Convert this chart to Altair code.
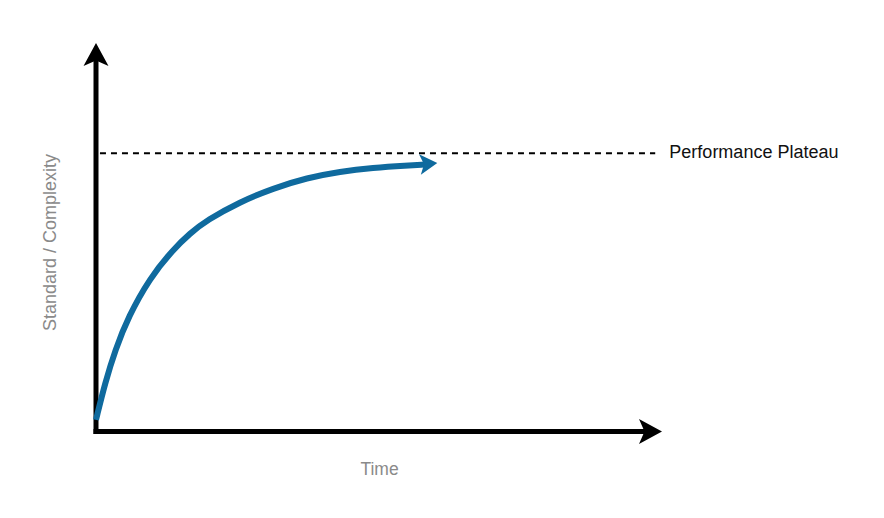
import altair as alt
import pandas as pd

# Learning curve (Time vs Standard / Complexity), in chart units 0-100
curve_x = [0.0, 1.6, 3.4, 5.7, 9.5, 13.6, 16.6, 19.6, 25.4, 31.3, 37.3, 43.1, 48.9, 55.0, 58.0]
curve_y = [3.0, 12.5, 21.0, 29.5, 39.5, 46.8, 51.0, 54.4, 59.1, 62.6, 65.3, 66.9, 67.9, 68.5, 68.7]
curve_tip_x = [60.3]
curve_tip_y = [69.1]

plateau_level = [71.6]
plateau_start = [0.7]
plateau_end = [98.8]
plateau_label = ["Performance Plateau"]
label_x = [101.3]

axis_end_x = [97.0]      # x-axis shaft end
axis_end_y = [95.6]      # y-axis shaft end
axis_tip_x = [100.0]
axis_tip_y = [100.0]

x_title = "Time"
y_title = "Standard / Complexity"

FONT = "Liberation Sans"
BLUE = "#0f6a9e"
ARROW_AXIS = "M0,0 L-1.84,-1 L-1.4,0 L-1.84,1 Z"
ARROW_CURVE = "M0,0 L-1.7,-1 L-1.3,0 L-1.7,1 Z"

xs = alt.Scale(domain=[0, 100], nice=False, zero=False)
ys = alt.Scale(domain=[0, 100], nice=False, zero=False)
xax = alt.Axis(title=x_title, domain=False, ticks=False, labels=False, grid=False,
               titleColor="#8a8a8a", titleFont=FONT, titleFontSize=17.5,
               titleFontWeight="normal", titlePadding=29)
yax = alt.Axis(title=y_title, domain=False, ticks=False, labels=False, grid=False,
               titleColor="#8a8a8a", titleFont=FONT, titleFontSize=18,
               titleFontWeight="normal", titlePadding=37, titleY=199)


def X(field="x"):
    return alt.X(f"{field}:Q", scale=xs, axis=xax)


def Y(field="y"):
    return alt.Y(f"{field}:Q", scale=ys, axis=yax)


curve_df = pd.DataFrame({"x": curve_x, "y": curve_y, "order": list(range(len(curve_x)))})
curve = alt.Chart(curve_df).mark_line(
    color=BLUE, strokeWidth=6, interpolate="basis", strokeCap="butt"
).encode(x=X(), y=Y(), order="order:Q")

curve_head = alt.Chart(pd.DataFrame({"x": curve_tip_x, "y": curve_tip_y})).mark_point(
    shape=ARROW_CURVE, filled=True, size=420, angle=355, color=BLUE, opacity=1, strokeWidth=0
).encode(x=X(), y=Y())

plateau = alt.Chart(pd.DataFrame({"x": plateau_start, "x2": plateau_end, "y": plateau_level})).mark_rule(
    color="#000000", strokeWidth=2, strokeDash=[6, 5]
).encode(x=X(), x2="x2:Q", y=Y())

label = alt.Chart(pd.DataFrame({"x": label_x, "y": plateau_level, "t": plateau_label})).mark_text(
    align="left", baseline="middle", font=FONT, fontSize=18, color="#111111"
).encode(x=X(), y=Y(), text="t:N")

axes_df = pd.DataFrame({"x": [0.0, 0.0], "x2": [axis_end_x[0], 0.0],
                        "y": [0.0, 0.0], "y2": [0.0, axis_end_y[0]]})
axis_lines = alt.Chart(axes_df).mark_rule(
    color="#000000", strokeWidth=5, strokeCap="square"
).encode(x=X(), x2="x2:Q", y=Y(), y2="y2:Q")

heads_df = pd.DataFrame({"x": [axis_tip_x[0], 0.0], "y": [0.0, axis_tip_y[0]], "a": [0, 270]})
axis_heads = alt.Chart(heads_df).mark_point(
    shape=ARROW_AXIS, filled=True, size=625, color="#000000", opacity=1, strokeWidth=0
).encode(x=X(), y=Y(), angle=alt.Angle("a:Q", scale=None))

chart = alt.layer(plateau, label, axis_lines, axis_heads, curve, curve_head).properties(
    width=566, height=388.5,
    autosize=alt.AutoSizeParams(type="none"),
    padding={"left": 88, "top": 35, "right": 214, "bottom": 78},
    background="white",
).configure_view(stroke=None)

chart.save("out.html", embed_options={"renderer": "svg", "actions": False})
